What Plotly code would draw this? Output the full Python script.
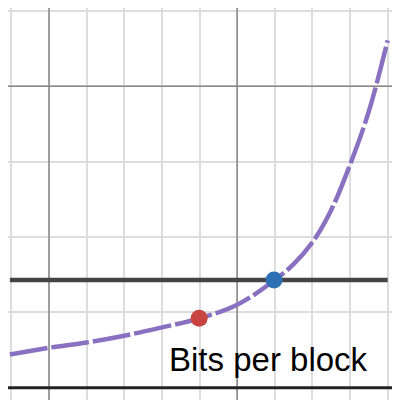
import plotly.graph_objects as go

curve_x = [-1.04, 0, 1, 2, 3, 4, 5, 6, 6.5, 7, 7.5, 8, 8.5, 9]
curve_y = [0.44, 0.53, 0.60, 0.69, 0.80, 0.92, 1.10, 1.43, 1.64, 1.93, 2.36, 2.96, 3.67, 4.61]
level_x = [-1.04, 9.0]
level_y = [1.43, 1.43]
red_pt = ([3.99], [0.92])
blue_pt = ([5.98], [1.43])
label = "Bits per block"
major_x = [0, 5]
major_y = [4]

XR = [-1.09, 9.54]
YR = [-0.27, 5.04]

fig = go.Figure()
for xv in major_x:
    fig.add_trace(go.Scatter(x=[xv, xv], y=YR, mode="lines", line=dict(color="#888888", width=1.5)))
for yv in major_y:
    fig.add_trace(go.Scatter(x=XR, y=[yv, yv], mode="lines", line=dict(color="#888888", width=1.5)))
fig.add_trace(go.Scatter(x=XR, y=[0, 0], mode="lines", line=dict(color="#222222", width=3)))
fig.add_trace(go.Scatter(x=level_x, y=level_y, mode="lines",
                         line=dict(color="#444444", width=4.5)))
fig.add_trace(go.Scatter(x=curve_x, y=curve_y, mode="lines", line_shape="spline",
                         line=dict(color="#8a70c0", width=4.5, dash="38px,4px")))
fig.add_trace(go.Scatter(x=red_pt[0], y=red_pt[1], mode="markers",
                         marker=dict(color="#c74440", size=17)))
fig.add_trace(go.Scatter(x=blue_pt[0], y=blue_pt[1], mode="markers",
                         marker=dict(color="#2d70b3", size=17)))
fig.add_annotation(x=3.14, y=0.37, text=label, showarrow=False, xanchor="left",
                   yanchor="middle", font=dict(family="Arial, Liberation Sans", size=33, color="black"))

fig.update_layout(width=400, height=400, margin=dict(l=0, r=0, t=0, b=0),
                  plot_bgcolor="white", paper_bgcolor="white", showlegend=False)
fig.update_xaxes(range=XR, dtick=1, tick0=0, gridcolor="#dddddd", gridwidth=1.5,
                 showticklabels=False, zeroline=False)
fig.update_yaxes(range=YR, dtick=1, tick0=0, gridcolor="#dddddd", gridwidth=1.5,
                 showticklabels=False, zeroline=False)
fig.write_html("out.html")
